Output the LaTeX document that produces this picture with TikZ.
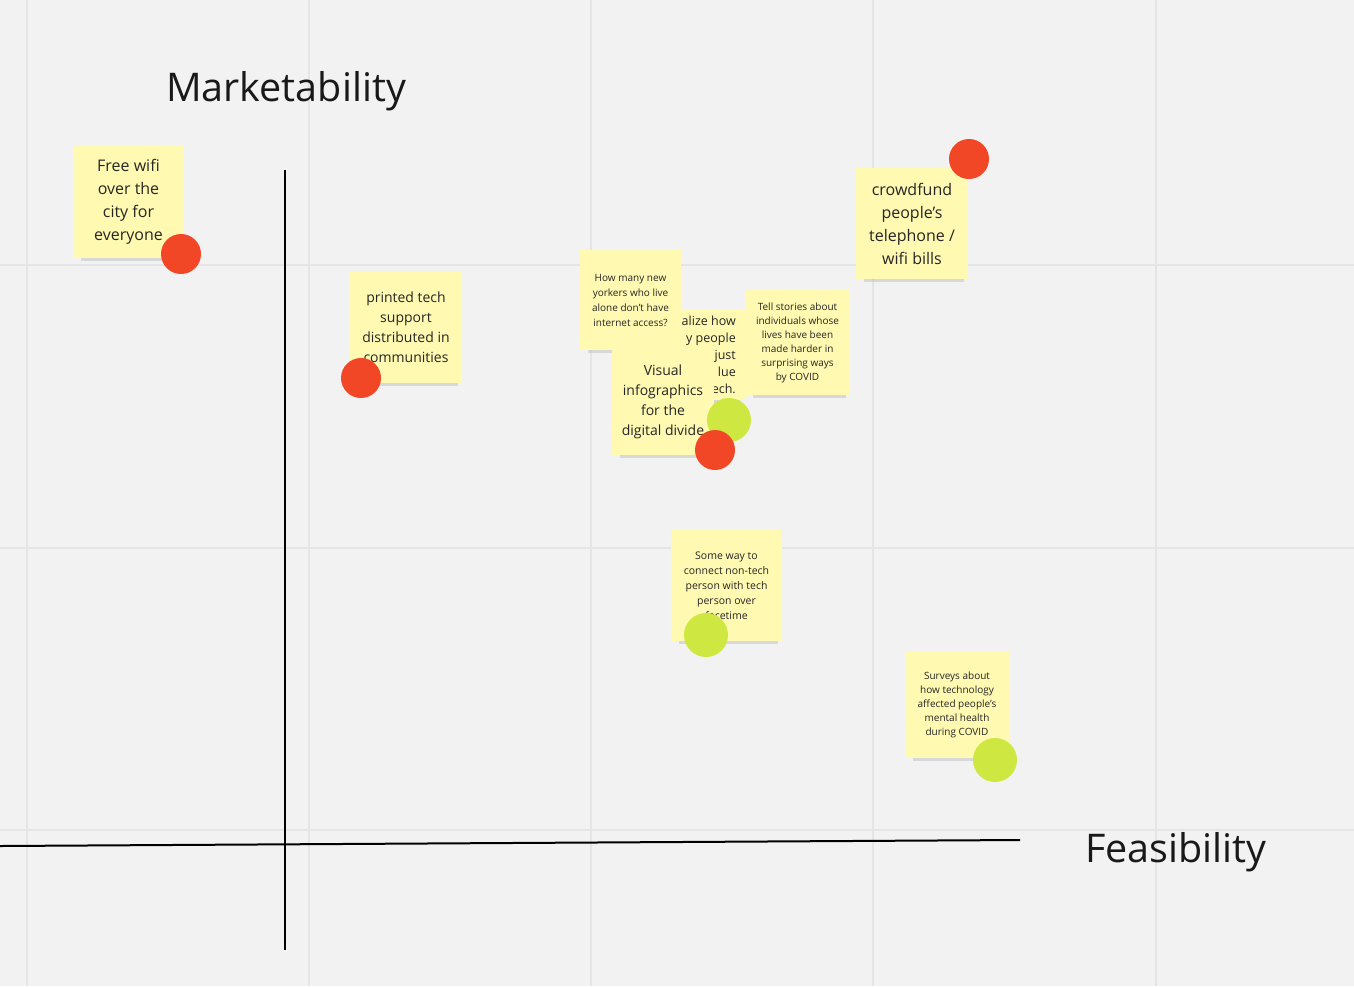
\documentclass[tikz,border=0pt]{standalone}
\usepackage{fontspec}
\setmainfont{Open Sans}
\begin{document}
\begin{tikzpicture}[x=1pt,y=-1pt,
  note/.style={inner sep=0pt, align=center, text=black!85},
  shad/.style={fill=black!25, opacity=0.5},
  reddot/.style={circle, fill=dotR, minimum size=40pt, inner sep=0pt},
  greendot/.style={circle, fill=dotG, minimum size=44pt, inner sep=0pt},
  gridl/.style={draw=black!10, line width=1.2pt},
  axis/.style={draw=black, line width=2pt}]
\definecolor{noteY}{HTML}{FFF9B1}
\definecolor{dotR}{HTML}{F24726}
\definecolor{dotG}{HTML}{CEE741}
\fill[black!5] (0,0) rectangle (1354,986);
\useasboundingbox (0,0) rectangle (1354,986);
\foreach \x in {27,309,591,873,1156} \draw[gridl] (\x,0) -- (\x,986);
\foreach \y in {265,548,830} \draw[gridl] (0,\y) -- (1354,\y);
% axes
\coordinate (vt) at (285,170); \coordinate (vb) at (285,950);
\coordinate (hl) at (0,846); \coordinate (hr) at (1020,840);
\draw[axis] (vt) -- (vb);
\draw[axis] (hl) -- (hr);
\node[font=\fontsize{39.5}{46}\selectfont, text=black!90] (mk) at (286,91) {Marketability};
\node[font=\fontsize{39.5}{46}\selectfont, text=black!90] (fe) at (1176,852) {Feasibility};
\newcommand{\sticky}[7]{% name, x1,y1,x2,y2, font, text
  \fill[shad] (#2+8,#5-6) rectangle (#4-4,#5+3);
  \fill[noteY] (#2,#3) rectangle (#4,#5);
  \node[note, font=#6] (#1) at ({(#2+#4)/2},{(#3+#5)/2}) {#7};}
\sticky{n1}{73}{146}{184}{258}{\fontsize{16}{23}\selectfont}{Free wifi\\over the\\city for\\everyone}
\node[reddot] (d1) at (181,254) {};
\sticky{n2}{350}{272}{462}{383}{\fontsize{14}{20}\selectfont}{printed tech\\support\\distributed in\\communities}
\node[reddot] (d2) at (361,378) {};
\sticky{n7}{856}{168}{968}{279}{\fontsize{16}{23}\selectfont}{crowdfund\\people's\\telephone /\\wifi bills}
\node[reddot] (d7) at (969,159) {};
% hidden note
\fill[shad] (660,395) rectangle (740,404);
\fill[noteY] (650,310) rectangle (745,400);
\node[note, anchor=north east, align=right, font=\fontsize{12.5}{17}\selectfont] (n4) at (736,316) {alize how\\y people\\just\\lue\\ech.};
\sticky{n3}{580}{250}{681}{350}{\fontsize{10}{15}\selectfont}{How many new\\yorkers who live\\alone don't have\\internet access?}
\sticky{n5}{612}{348}{714}{455}{\fontsize{14}{20}\selectfont}{Visual\\infographics\\for the\\digital divide}
\sticky{n6}{745}{290}{850}{395}{\fontsize{10}{14}\selectfont}{Tell stories about\\individuals whose\\lives have been\\made harder in\\surprising ways\\by COVID}
\node[greendot] (d5a) at (729,420) {};
\node[reddot] (d5b) at (715,450) {};
\sticky{n8}{671}{530}{782}{641}{\fontsize{10.5}{15}\selectfont}{Some way to\\connect non-tech\\person with tech\\person over\\facetime}
\node[greendot] (d8) at (706,635) {};
\sticky{n9}{905}{652}{1009}{758}{\fontsize{10}{14}\selectfont}{Surveys about\\how technology\\affected people's\\mental health\\during COVID}
\node[greendot] (d9) at (995,760) {};
\end{tikzpicture}
\end{document}
